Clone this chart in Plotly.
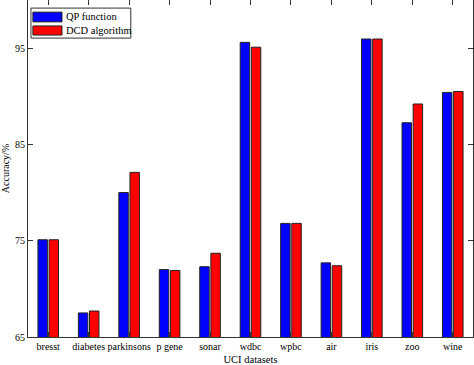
import plotly.graph_objects as go

categories = ["bresst", "diabetes", "parkinsons", "p gene", "sonar", "wdbc",
              "wpbc", "air", "iris", "zoo", "wine"]
qp_values = [75.1, 67.5, 80.0, 72.0, 72.3, 95.6, 76.8, 72.7, 95.95, 87.25, 90.4]
dcd_values = [75.1, 67.7, 82.1, 71.9, 73.7, 95.1, 76.8, 72.4, 95.95, 89.2, 90.5]
series_names = ["QP function", "DCD algorithm"]
series_colors = ["#0000FF", "#FF0000"]
y_ticks = [65, 75, 85, 95]

FONT = "Liberation Serif, Times New Roman, serif"

fig = go.Figure()
for name, vals, col in zip(series_names, [qp_values, dcd_values], series_colors):
    fig.add_trace(go.Bar(
        x=categories, y=vals, name=name,
        marker=dict(color=col, line=dict(color="#222222", width=1)),
        showlegend=False,
    ))

axis_common = dict(
    showline=True, linecolor="#333333", linewidth=1, mirror="ticks",
    ticks="inside", ticklen=5, tickcolor="#333333", showgrid=False,
    zeroline=False, tickfont=dict(family=FONT, size=10, color="black"),
)

fig.update_layout(
    width=474, height=365,
    margin=dict(l=28, r=1, t=0, b=28),
    paper_bgcolor="white", plot_bgcolor="white",
    barmode="group", bargap=0.45, bargroupgap=0.15,
    font=dict(family=FONT, size=10, color="black"),
    xaxis=dict(axis_common, range=[-0.5, 10.5], tickangle=0,
               title=dict(text="UCI datasets", standoff=8,
                          font=dict(family=FONT, size=10.5)),
               automargin=False),
    yaxis=dict(axis_common, range=[65, 100], tickvals=y_ticks,
               title=dict(text="Accuracy/%", standoff=5,
                          font=dict(family=FONT, size=10)),
               automargin=False),
)

# legend box (drawn in paper coordinates)
fig.add_shape(type="rect", xref="paper", yref="paper",
              x0=0.0067, x1=0.231, y0=0.887, y1=0.976,
              line=dict(color="#333333", width=1), fillcolor="white")
sw_y = [(0.935, 0.964), (0.896, 0.923)]
txt_y = [0.950, 0.909]
for (y0, y1), ty, name, col in zip(sw_y, txt_y, series_names, series_colors):
    fig.add_shape(type="rect", xref="paper", yref="paper",
                  x0=0.011, x1=0.0764, y0=y0, y1=y1,
                  line=dict(color="#222222", width=1), fillcolor=col)
    fig.add_annotation(xref="paper", yref="paper", x=0.081, y=ty,
                       text=name, showarrow=False, xanchor="left",
                       yanchor="middle",
                       font=dict(family=FONT, size=10.5, color="black"))

fig.write_html("out.html",
               config={"displayModeBar": False},
               post_script="document.body.style.margin='0';"
                           "document.body.style.overflow='hidden';")
